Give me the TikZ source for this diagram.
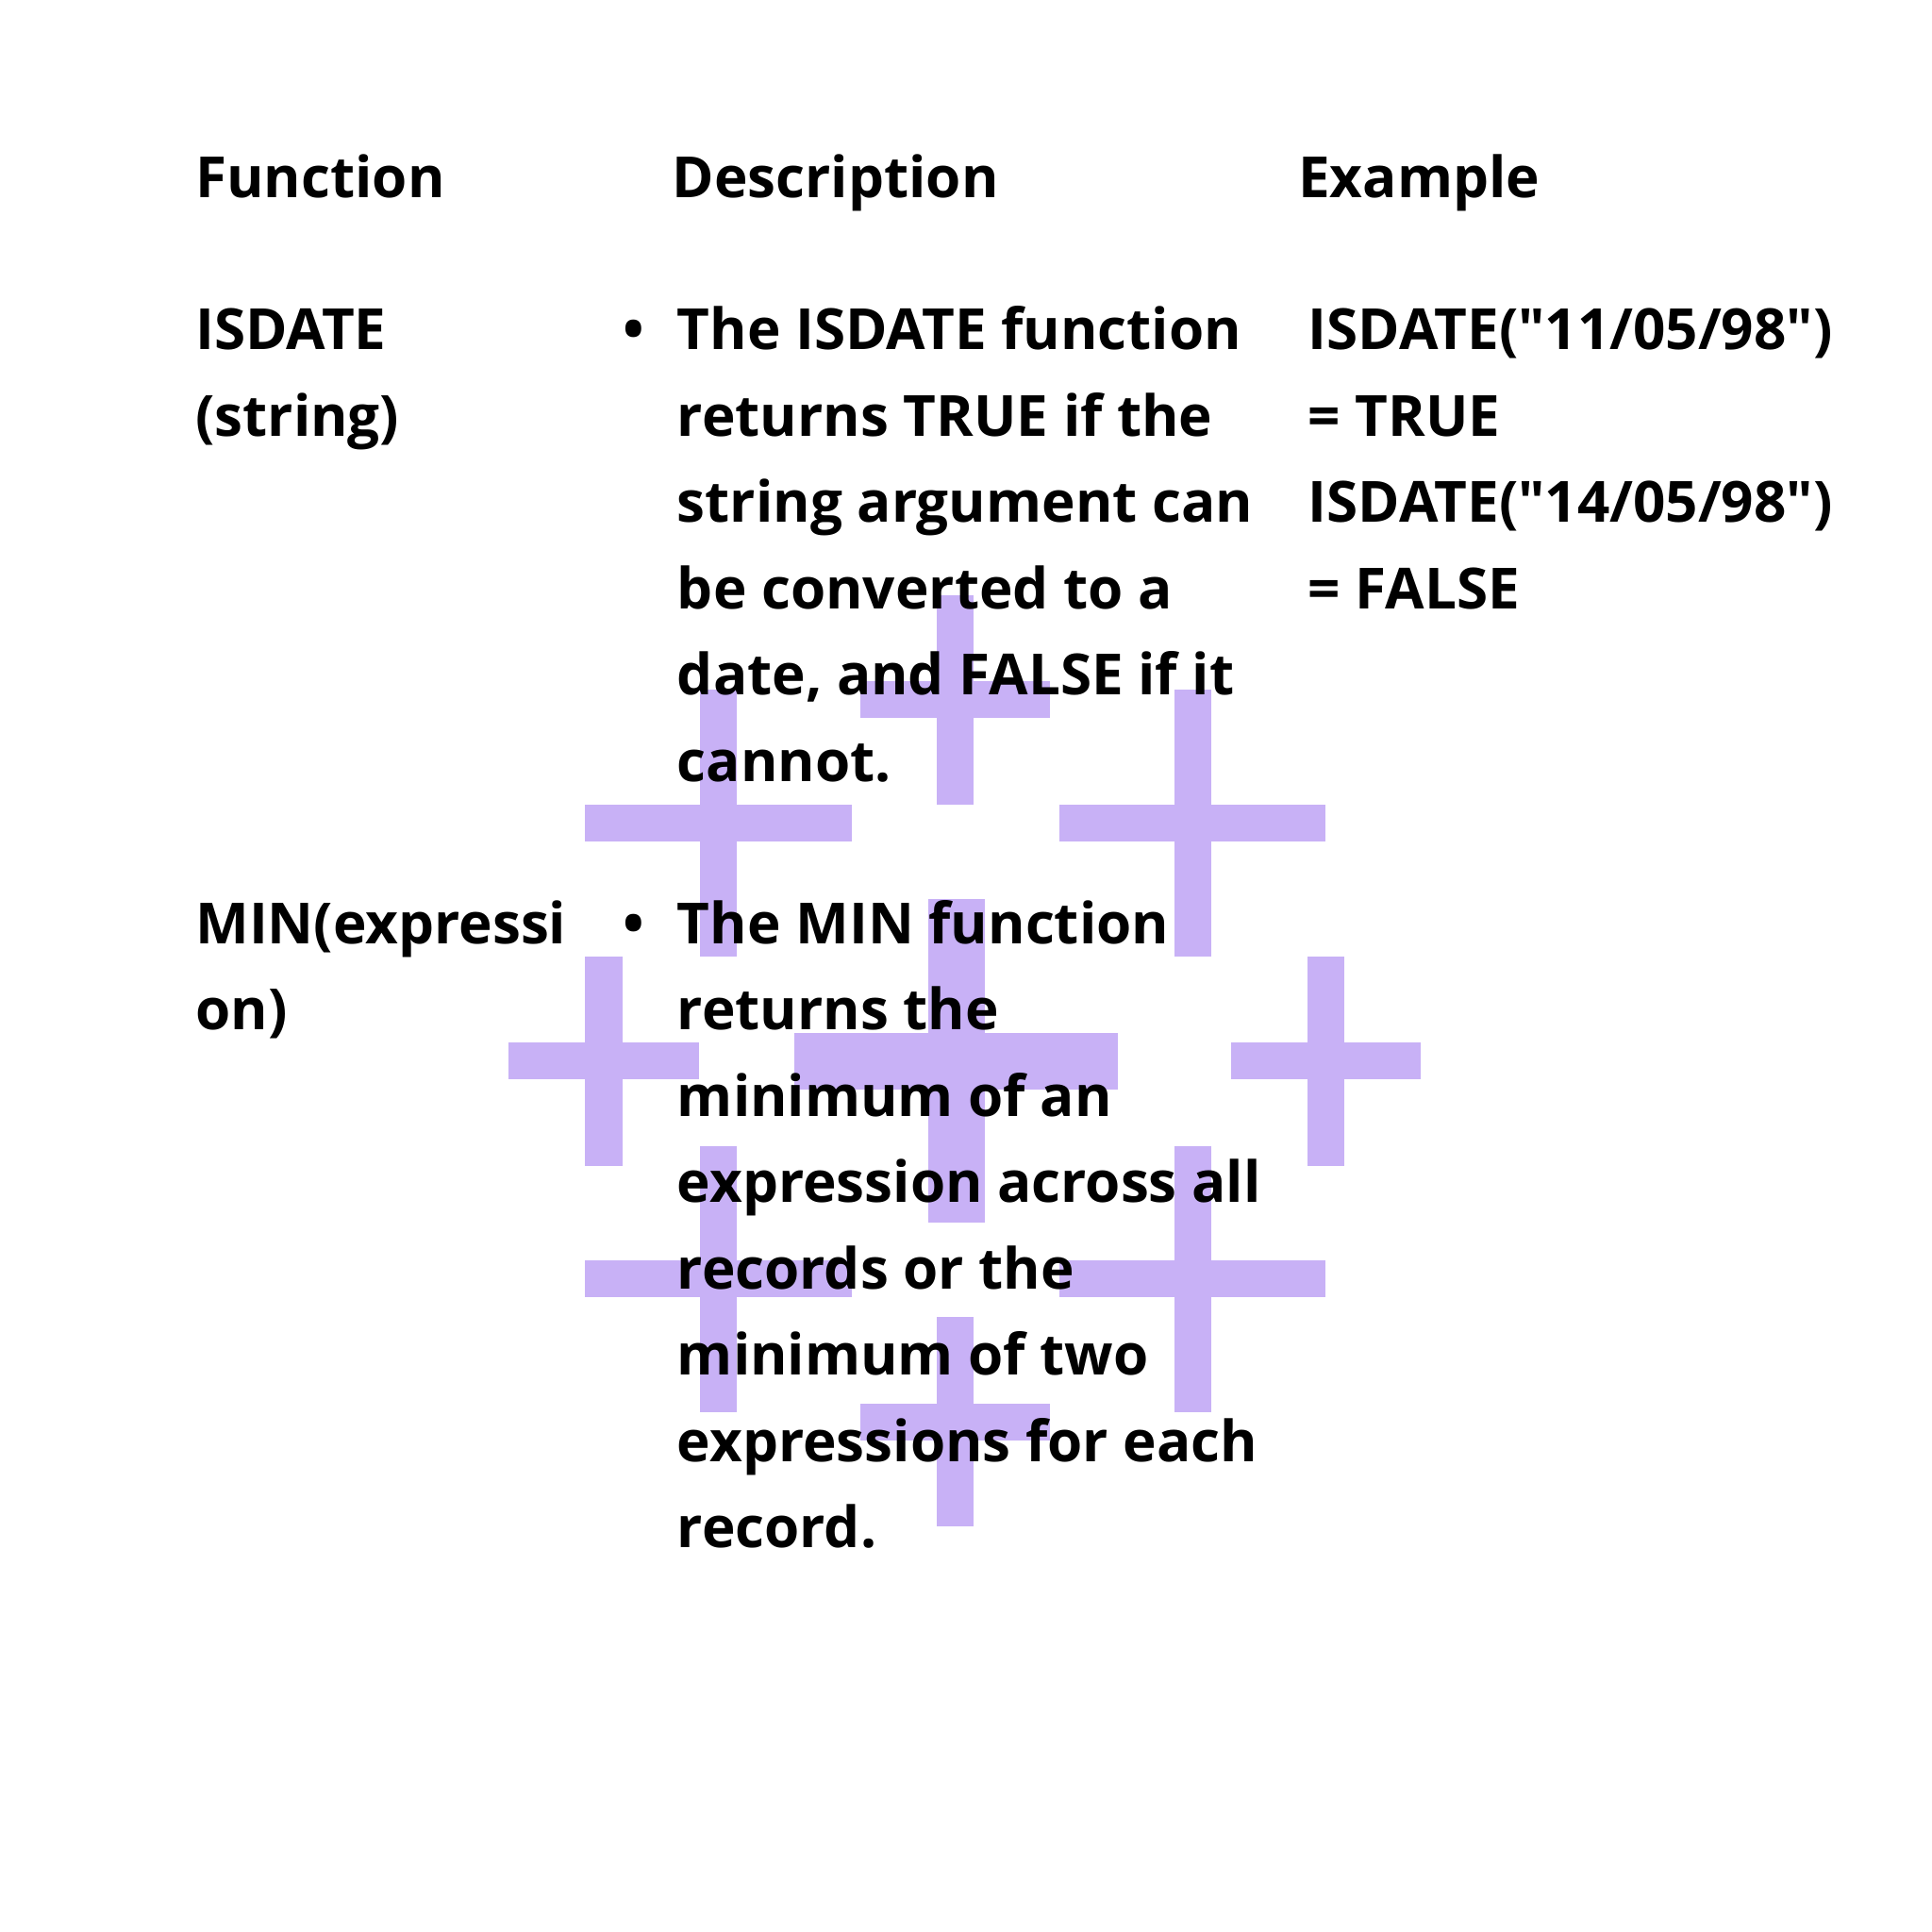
\documentclass[tikz,border=0pt]{standalone}
\usepackage{fontspec}
\setmainfont{Open Sans}[Ligatures=TeXOff,BoldFont={* Bold}]
\begin{document}
\begin{tikzpicture}[x=0.01cm,y=-0.01cm,
  txt/.style={anchor=base west,inner sep=0pt,font=\fontsize{13.1}{20}\selectfont\bfseries}]
\definecolor{plus}{HTML}{C8B1F6}
\useasboundingbox (0,0) rectangle (1568,1568);
\fill[white] (0,0) rectangle (1568,1568);
\foreach \cx/\cy/\hw/\hh/\t in {775/568/77/85/15, 583/668/108/108/15, 968/668/108/108/15,
  490/861/77/85/15, 776/861/131/131/23, 1076/861/77/85/15,
  583/1038/108/108/15, 968/1038/108/108/15, 775/1154/77/85/15}{
  \fill[plus] (\cx-\t,\cy-\hh) rectangle (\cx+\t,\cy+\hh);
  \fill[plus] (\cx-\hw,\cy-\t) rectangle (\cx+\hw,\cy+\t);
}
\node[txt] (h1) at (158,160) {Function};
\node[txt] (h2) at (545,160) {Description};
\node[txt] (h3) at (1053,160) {Example};
\node[txt] (f1a) at (158,284) {ISDATE};
\node[txt] (f1b) at (158,354) {(string)};
\node[txt] (b1) at (505,284) {\textbullet};
\foreach \i/\s in {0/The ISDATE function,1/returns TRUE if the,2/string argument can,3/be converted to a,4/{date, and FALSE if it},5/cannot.}
  \node[txt] (d1\i) at (549,284+70*\i) {\s};
\node[txt] (e0) at (1061,284) {ISDATE("11/05/98")};
\node[txt] (e1) at (1061,354) {= TRUE};
\node[txt] (e2) at (1061,424) {ISDATE("14/05/98")};
\node[txt] (e3) at (1061,494) {= FALSE};
\node[txt] (f2a) at (158,766) {MIN(expressi};
\node[txt] (f2b) at (158,836) {on)};
\node[txt] (b2) at (505,766) {\textbullet};
\foreach \i/\s in {0/The MIN function,1/returns the,2/minimum of an,3/expression across all,4/records or the,5/minimum of two,6/expressions for each,7/record.}
  \node[txt] (d2\i) at (549,766+70*\i) {\s};
\end{tikzpicture}
\end{document}
